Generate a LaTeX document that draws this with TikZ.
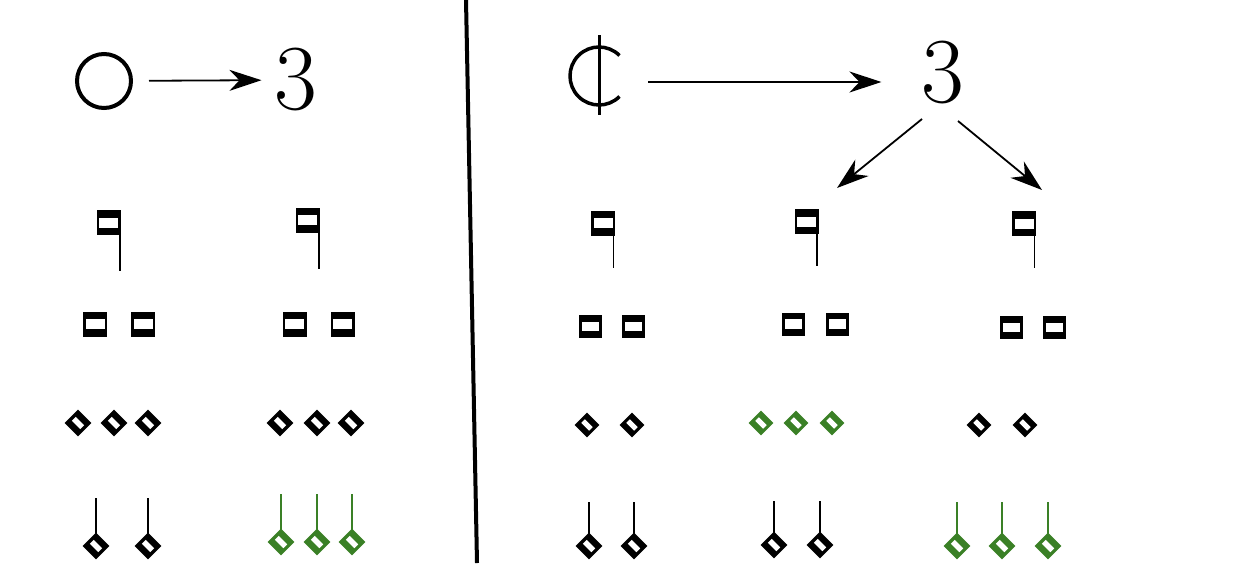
\documentclass[tikz,border=0pt]{standalone}
\usepackage{fontspec}
\usetikzlibrary{arrows.meta}

\definecolor{mgreen}{RGB}{58,128,38}

\def\rs{0.92}

\tikzset{
  arr/.style={line width=1.8pt, -{Stealth[length=32pt, width=21pt, inset=10pt]}},
  numeral/.style={inner sep=0pt, font=\fontsize{93}{93}\selectfont},
  pics/brevis/.style={code={
      \fill (-12,-12.5) rectangle (12,12.5);
      \fill[white] (-9.5,-5) rectangle (9.5,5);
  }},
  pics/longa/.style={code={
      \pic {brevis};
      \draw[line width=1.3pt] (11.4,12) -- (11.4,48.5);
  }},
  pics/semibrevis/.style={code={
      \fill[rotate=-45] (-9.5,-9.5) rectangle (9.5,9.5);
      \fill[white, rotate=-45] (-6,-2.7) rectangle (6,2.7);
  }},
  pics/minima/.style={code={
      \pic {semibrevis};
      \draw[line width=1.3pt] (0,-12) -- (0,-48);
  }},
}

\begin{document}
\begin{tikzpicture}[x=1pt, y=-1pt]
  \useasboundingbox (0,0) rectangle (1246,576);

  % signs and proportions
  \node[circle, draw, line width=4pt, minimum size=54pt, inner sep=0pt] (tempus) at (104,81) {};
  \node[numeral] (threeL) at (296,80) {3};
  \draw[arr, shorten <=16pt, shorten >=13pt] (tempus) -- (threeL);

  \coordinate (cutC) at (599,76);
  \draw[line width=3.5pt] ([shift={(45:29)}]cutC) arc[start angle=45, end angle=315, radius=29];
  \draw[line width=3pt] ([shift={(0,-41)}]cutC) -- ([shift={(0,39)}]cutC);
  \node[numeral] (threeR) at (943,73) {3};
  \draw[arr] ([shift={(49,6)}]cutC) -- ([shift={(-40,9)}]threeR.west);

  \coordinate (toB) at (837,188);
  \coordinate (toC) at (1042,190);
  \draw[arr] ([shift={(-21,46)}]threeR.center) -- (toB);
  \draw[arr] ([shift={(15,48)}]threeR.center) -- (toC);

  % separator
  \draw[line width=4pt] (466,0) -- (477,563);

  % left panel
  \pic at (108.5,222.5) {longa};
  \pic at (307.5,220) {longa};
  \foreach \x in {95,143,294.5,342.5} {
      \pic at (\x,324) {brevis};
  }
  \foreach \x in {78,114,148,280,317,351} {
      \pic at (\x,423) {semibrevis};
  }
  \foreach \x in {96,148} {
      \pic at (\x,546) {minima};
  }
  \foreach \x in {281,317,352} {
      \pic[mgreen] at (\x,542) {minima};
  }

  % right panel
  \foreach \x/\y in {603/223,806.5/221.5,1024/223.5} {
      \pic[scale=\rs] at (\x,\y) {longa};
  }
  \foreach \x/\y in {590.5/326.5,633.5/326.5,793.5/324,837.5/324,1011.5/327.5,1054.5/327.5} {
      \pic[scale=\rs] at (\x,\y) {brevis};
  }
  \foreach \x in {587,632,979,1025} {
      \pic[scale=\rs] at (\x,425) {semibrevis};
  }
  \foreach \x in {761,796,832} {
      \pic[scale=\rs, mgreen] at (\x,423) {semibrevis};
  }
  \foreach \x/\y in {589/546,634/546,774/545,820/545} {
      \pic[scale=\rs] at (\x,\y) {minima};
  }
  \foreach \x in {957,1002,1048} {
      \pic[scale=\rs, mgreen] at (\x,546) {minima};
  }
\end{tikzpicture}
\end{document}
